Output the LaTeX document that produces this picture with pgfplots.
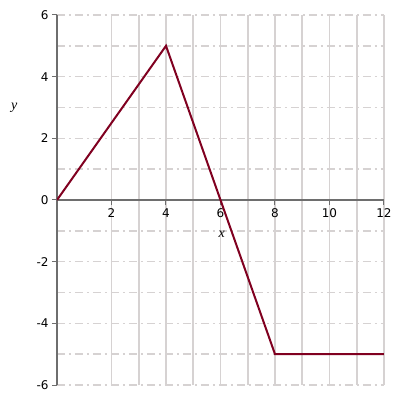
\documentclass[border=0pt]{standalone}
\usepackage{fontspec}
\setmainfont{DejaVu Sans}
\newfontfamily\lab{Liberation Serif}
\usepackage{pgfplots}
\pgfplotsset{compat=1.18}
\definecolor{curve}{HTML}{800020}
\definecolor{axgray}{HTML}{6E6E6E}
\definecolor{gridgray}{HTML}{D6D2D2}
\begin{document}
\begin{tikzpicture}
\useasboundingbox (-57pt,-15pt) rectangle (343pt,385pt);
\begin{axis}[
  at={(0,0)}, anchor=south west,
  scale only axis, width=327pt, height=370pt,
  xmin=0, xmax=12, ymin=-6, ymax=6,
  axis lines=middle,
  axis line style={axgray, line width=2pt, -},
  xtick={2,4,...,12}, ytick={-6,-4,...,6},
  minor x tick num=1, minor y tick num=1,
  hide obscured y ticks=false,
  tick align=outside,
  major tick length=5pt, minor tick length=0pt,
  tick style={axgray, line width=1pt},
  grid=both,
  x grid style={gridgray, line width=1.6pt},
  y grid style={gridgray, line width=1.4pt, dash pattern=on 8pt off 4pt on 2pt off 4pt},
  /pgf/number format/assume math mode=true,
  ticklabel style={font=\fontsize{12}{14}\selectfont, black},
  xlabel={\lab\itshape x}, ylabel={\lab\itshape y},
  label style={font=\fontsize{14}{16}\selectfont},
  x label style={at={(axis description cs:0.504,0.408)}, anchor=center},
  y label style={at={(axis description cs:-0.131,0.75)}, anchor=center, rotate=0},
]
\addplot[curve, line width=2pt] coordinates {
  (0,0) (4,5) (6,0) (8,-5) (12,-5)
};
\end{axis}
\end{tikzpicture}
\end{document}
